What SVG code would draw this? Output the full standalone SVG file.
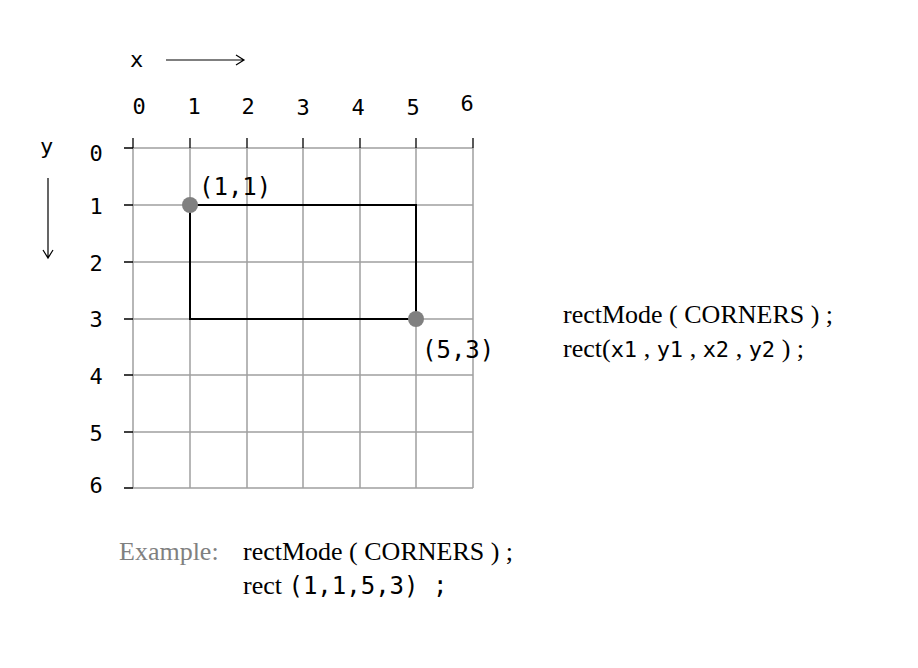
<svg xmlns="http://www.w3.org/2000/svg" width="918" height="668" viewBox="0 0 918 668">
<style>
.g{stroke:#a0a0a0;stroke-width:1.5}
.t{stroke:#000;stroke-width:1.3}
.m{font-family:"DejaVu Sans Mono","Liberation Mono",monospace;font-size:22px;fill:#000}
.p{font-size:24px}
.s{font-family:"Liberation Serif",serif;font-size:26px;fill:#000}
</style>
<rect width="918" height="668" fill="#fff"/>
<g id="grid">
<path class="g" d="M133 148V488M190 148V488M247 148V488M303 148V488M360 148V488M416 148V488M473 148V488M133 148H473M133 205H473M133 262H473M133 319H473M133 375H473M133 432H473M133 488H473"/>
<path class="t" d="M133 148V138M190 148V138M247 148V138M303 148V138M360 148V138M416 148V138M473 148V138M133 148H124M133 205H124M133 262H124M133 319H124M133 375H124M133 432H124M133 488H124"/>
</g>
<g id="xlabels" class="m" text-anchor="middle">
<text x="139" y="114">0</text><text x="194" y="114">1</text><text x="248" y="114">2</text><text x="303" y="115">3</text><text x="358" y="115">4</text><text x="413" y="115">5</text><text x="467" y="111">6</text>
</g>
<g id="ylabels" class="m" text-anchor="middle">
<text x="96" y="161">0</text><text x="96" y="214">1</text><text x="96" y="271">2</text><text x="96" y="327">3</text><text x="96" y="384">4</text><text x="96" y="441">5</text><text x="96" y="493">6</text>
</g>
<g id="axes">
<text class="m" x="130" y="67">x</text>
<path d="M166 60H243M236 55L244 60L236 65" fill="none" stroke="#000" stroke-width="1.2"/>
<text class="m" x="40" y="154">y</text>
<path d="M48 178V258M43 250L48 258L53 250" fill="none" stroke="#000" stroke-width="1.2"/>
</g>
<g id="rect">
<rect x="190" y="205" width="226" height="114" fill="none" stroke="#000" stroke-width="2"/>
</g>
<g id="p1"><circle cx="190" cy="205" r="8" fill="#808080"/><text class="m p" x="199" y="195">(1,1)</text></g>
<g id="p2"><circle cx="416" cy="319" r="8" fill="#808080"/><text class="m p" x="422" y="358">(5,3)</text></g>
<g id="code1">
<text class="s" x="563" y="323">rectMode ( CORNERS ) ;</text>
<text x="563" y="357"><tspan class="s">rect(</tspan><tspan class="m">x1</tspan><tspan class="s"> , </tspan><tspan class="m">y1</tspan><tspan class="s"> , </tspan><tspan class="m">x2</tspan><tspan class="s"> , </tspan><tspan class="m">y2</tspan><tspan class="s"> ) ;</tspan></text>
</g>
<g id="example">
<text x="119" y="560" font-family="Liberation Serif,serif" font-size="26" fill="#808080">Example:</text>
<text class="s" x="243" y="560">rectMode ( CORNERS ) ;</text>
<text x="243" y="594"><tspan class="s">rect </tspan><tspan class="m p">(1,1,5,3)  ;</tspan></text>
</g>
</svg>
